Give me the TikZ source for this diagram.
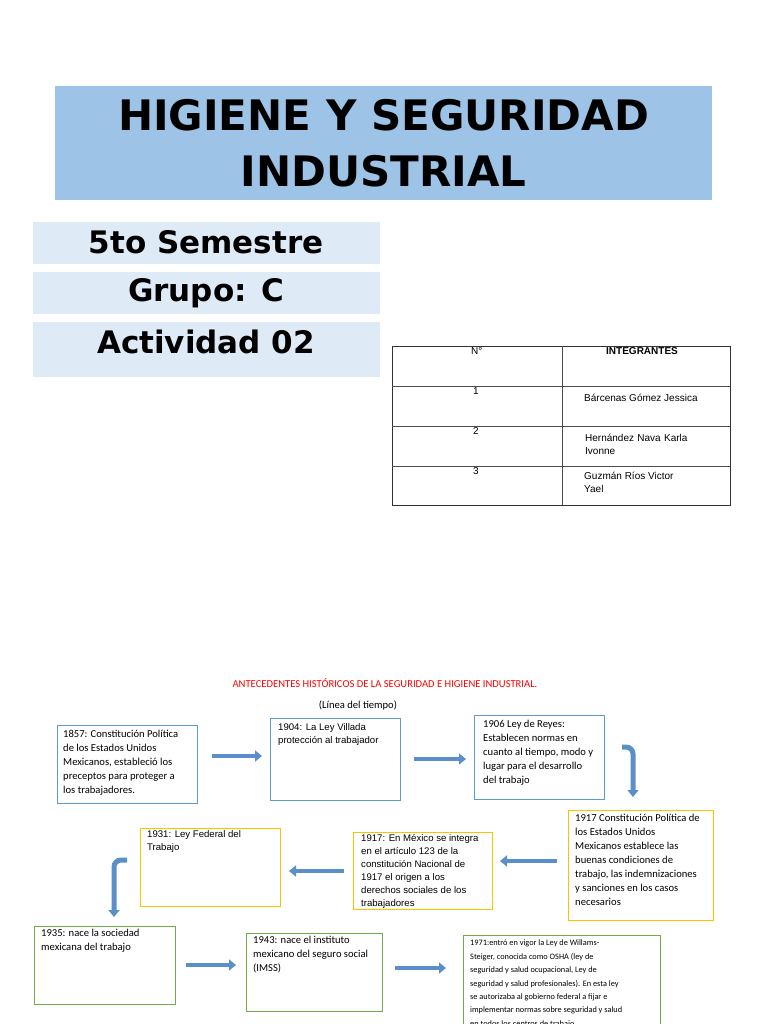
\documentclass[tikz,border=0pt]{standalone}
\usepackage{fontspec}
\setmainfont{Carlito}
\newfontfamily\arialf{Liberation Sans}
\newfontfamily\titlef{DejaVu Sans}
\usetikzlibrary{arrows.meta}
\definecolor{tblue}{HTML}{9DC3E6}
\definecolor{lblue}{HTML}{DEEBF7}
\definecolor{bblue}{HTML}{5B9BD5}
\definecolor{arr}{HTML}{5B8FC9}
\definecolor{yel}{HTML}{FFC000}
\definecolor{grn}{HTML}{70AD47}
\tikzset{
  bx/.style={draw=#1, line width=0.8pt, anchor=north west, inner sep=0pt},
  txt/.style={anchor=north west, align=left, font=\fontsize{10.6}{14}\selectfont, inner sep=0pt},
  atxt/.style={anchor=north west, align=left, font=\arialf\fontsize{9.6}{13}\selectfont, inner sep=0pt},
  bar/.style={arr, line width=4pt, -{Triangle[length=7pt,width=11pt]}},
  sem/.style={fill=lblue, anchor=north west, inner sep=0pt},
  semt/.style={font=\titlef\bfseries\fontsize{31}{34}\selectfont},
  cell/.style={font=\arialf\fontsize{10}{13}\selectfont, anchor=north west, align=left, inner sep=0pt}
}
\begin{document}
\begin{tikzpicture}[x=1pt,y=-1pt]
\useasboundingbox (0,0) rectangle (768,1024);
\fill[white] (0,0) rectangle (768,1024);
% title
\node[fill=tblue, anchor=north west, minimum width=657pt, minimum height=114pt, inner sep=0pt] (title) at (55,86) {};
\node[font=\titlef\bfseries\fontsize{42}{56}\selectfont, align=center] (tt) at (383.5,143) {HIGIENE Y SEGURIDAD\\INDUSTRIAL};
% semester boxes
\node[sem, minimum width=347pt, minimum height=42pt] (s1) at (33,222) {};
\node[sem, minimum width=347pt, minimum height=42pt] (s2) at (33,272) {};
\node[sem, minimum width=347pt, minimum height=55pt] (s3) at (33,322) {};
\node[semt] (s1t) at (206,242) {5to Semestre};
\node[semt] (s2t) at (206,293) {Grupo: C};
\node[semt] (s3t) at (206,342) {Actividad 02};
% table
\draw[line width=0.6pt, black!80] (392,346) rectangle (730,505);
\foreach \y in {386,426,466} \draw[line width=0.6pt, black!70] (392,\y) -- (730,\y);
\draw[line width=0.6pt, black!70] (562,346) -- (562,505);
\node[cell] (c0) at (471,347) {N°};
\node[cell, font=\arialf\bfseries\fontsize{10}{13}\selectfont] (c1) at (606,347) {INTEGRANTES};
\node[cell] (n1) at (473,387) {1};
\node[cell] (n2) at (473,427) {2};
\node[cell] (n3) at (473,467) {3};
\node[cell] (m1) at (584,394) {Bárcenas Gómez Jessica};
\node[cell, text width=130pt] (m2) at (585,434) {Hernández Nava Karla\\Ivonne};
\node[cell] (m3) at (584,472) {Guzmán Ríos Victor\\Yael};
% timeline heading
\node[red, font=\fontsize{10.6}{12}\selectfont] (h1) at (385,683) {ANTECEDENTES HISTÓRICOS DE LA SEGURIDAD E HIGIENE INDUSTRIAL.};
\node[font=\fontsize{10.6}{12}\selectfont] (h2) at (358,705) {(Línea del tiempo)};
% boxes
\node[bx=bblue, minimum width=140pt, minimum height=78pt] (b1) at (57,725) {};
\node[txt] at (63,730) {1857: Constitución Política\\de los Estados Unidos\\Mexicanos, estableció los\\preceptos para proteger a\\los trabajadores.};
\node[bx=bblue, minimum width=130pt, minimum height=82pt] (b2) at (270,718) {};
\node[atxt] at (278,723) {1904: La Ley Villada\\protección al trabajador};
\node[bx=bblue, minimum width=130pt, minimum height=84pt] (b3) at (474,715) {};
\node[txt] at (483,720) {1906 Ley de Reyes:\\Establecen normas en\\cuanto al tiempo, modo y\\lugar para el desarrollo\\del trabajo};
\node[bx=yel, minimum width=145pt, minimum height=110pt] (b4) at (568,810) {};
\node[txt] at (575,814) {1917 Constitución Política de\\los Estados Unidos\\Mexicanos establece las\\buenas condiciones de\\trabajo, las indemnizaciones\\y sanciones en los casos\\necesarios};
\node[bx=yel, minimum width=139pt, minimum height=77pt] (b5) at (353,832) {};
\node[atxt] at (361,834) {1917: En México se integra\\en el artículo 123 de la\\constitución Nacional de\\1917 el origen a los\\derechos sociales de los\\trabajadores};
\node[bx=yel, minimum width=140pt, minimum height=78pt] (b6) at (140,828) {};
\node[atxt] at (147,830) {1931: Ley Federal del\\Trabajo};
\node[bx=grn, minimum width=141pt, minimum height=78pt] (b7) at (34,926) {};
\node[txt] at (41,929) {1935: nace la sociedad\\mexicana del trabajo};
\node[bx=grn, minimum width=136pt, minimum height=78pt] (b8) at (246,933) {};
\node[txt] at (253,936) {1943: nace el instituto\\mexicano del seguro social\\(IMSS)};
\node[bx=grn, minimum width=197pt, minimum height=95pt] (b9) at (463,935) {};
\node[txt, font=\fontsize{8.3}{13.4}\selectfont] at (470,940) {1971:entró en vigor la Ley de Willams-\\Steiger, conocida como OSHA (ley de\\seguridad y salud ocupacional, Ley de\\seguridad y salud profesionales). En esta ley\\se autorizaba al gobierno federal a fijar e\\implementar normas sobre seguridad y salud\\en todos los centros de trabajo.};
% arrows
\coordinate (a1s) at (212,756); \coordinate (a1e) at (262,756);
\draw[bar] (a1s) -- (a1e);
\coordinate (a2s) at (414,759); \coordinate (a2e) at (466,759);
\draw[bar] (a2s) -- (a2e);
\coordinate (a3s) at (622,747); \coordinate (a3e) at (633,797);
\draw[bar, line width=5pt, rounded corners=7pt] (a3s) -- (633,747) -- (a3e);
\coordinate (a4s) at (557,861); \coordinate (a4e) at (500,861);
\draw[bar] (a4s) -- (a4e);
\coordinate (a5s) at (344,871); \coordinate (a5e) at (289,871);
\draw[bar] (a5s) -- (a5e);
\coordinate (a6s) at (127,860); \coordinate (a6e) at (114,917);
\draw[bar, line width=5pt, rounded corners=7pt] (a6s) -- (114,860) -- (a6e);
\coordinate (a7s) at (186,965); \coordinate (a7e) at (236,965);
\draw[bar] (a7s) -- (a7e);
\coordinate (a8s) at (395,968); \coordinate (a8e) at (446,968);
\draw[bar] (a8s) -- (a8e);
\end{tikzpicture}
\end{document}
